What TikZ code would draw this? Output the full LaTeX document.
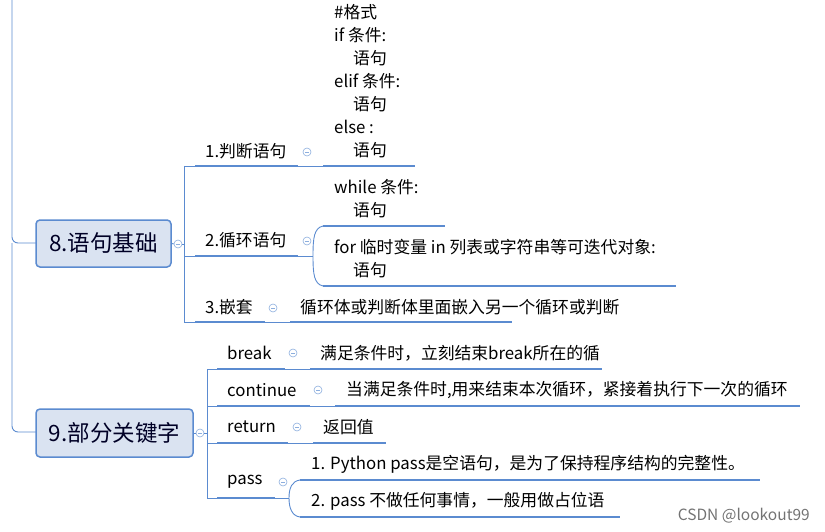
\documentclass[tikz,border=0pt]{standalone}
\usepackage{fontspec}
\setmainfont{Noto Sans CJK SC}
\definecolor{bl}{HTML}{5B8BD0}
\definecolor{rootfill}{HTML}{DAE3F1}
\begin{document}
\begin{tikzpicture}[x=1pt,y=-1pt,
  txt/.style={anchor=west,inner sep=0pt,font=\fontsize{16.8}{18}\selectfont,text=black},
  root/.style={draw=bl,line width=1.5pt,fill=rootfill,rounded corners=4pt,font=\fontsize{22.5}{24}\selectfont,text=black!85!blue,inner sep=0pt},
  ul/.style={draw=bl,line width=2.6pt},
  thin/.style={draw=bl,line width=0.9pt},
  tog/.style={circle,draw=bl!70,line width=0.6pt,minimum size=8pt,inner sep=0pt,path picture={\draw[bl!70,line width=0.6pt] ([xshift=-2pt]path picture bounding box.center) -- ([xshift=2pt]path picture bounding box.center);}}]
\useasboundingbox (0,0) rectangle (825,532);
% trunk
\draw[thin,rounded corners=6pt] (12,0) -- (12,243) -- (36,243);
\draw[thin,rounded corners=6pt] (12,243) -- (12,432) -- (36,432);
% root 8
\node[root,minimum width=135pt,minimum height=47pt] (r8) at (103.5,243.5) {8.语句基础};
\node[tog] (t8) at (178,244) {};
\draw[thin] (r8.east) -- (t8.west);
\draw[thin] (t8.east) -- (184,244);
\draw[thin] (184,166) -- (184,322);
% 1
\node[txt] (a1) at (205,151) {1.判断语句};
\node[tog] (ta1) at (307,152) {};
\draw[ul] (195,166) -- (298,166);
\draw[thin] (184,166) -- (195,166);
\draw[thin] (298,166) -- (323,166);
\node[txt] (a1c) at (334,12) {\#格式};
\node[txt] at (334,35) {if 条件:};
\node[txt] at (353,58) {语句};
\node[txt] at (334,81) {elif 条件:};
\node[txt] at (353,104) {语句};
\node[txt] at (334,127) {else :};
\node[txt] at (353,150) {语句};
\draw[ul] (323,166) -- (415,166);
% 2
\node[txt] (a2) at (205,240) {2.循环语句};
\node[tog] (ta2) at (307,241) {};
\draw[ul] (195,256) -- (298,256);
\draw[thin] (184,256) -- (195,256);
\draw[thin] (298,256) -- (313,256);
\draw[thin] (323,226) .. controls (314,228) and (313,238) .. (313,256) .. controls (313,274) and (314,284) .. (323,286);
\node[txt] (b1) at (334,187) {while 条件:};
\node[txt] at (353,210) {语句};
\draw[ul] (323,226) -- (445,226);
\node[txt] (b2) at (334,247) {for 临时变量 in 列表或字符串等可迭代对象:};
\node[txt] at (353,270) {语句};
\draw[ul] (323,286) -- (676,286);
% 3
\node[txt] (a3) at (205,307) {3.嵌套};
\node[tog] (ta3) at (273,308) {};
\draw[ul] (195,322) -- (265,322);
\draw[thin] (184,322) -- (195,322);
\draw[thin] (265,322) -- (290,322);
\node[txt] (c3) at (300,307) {循环体或判断体里面嵌入另一个循环或判断};
\draw[ul] (290,322) -- (512,322);
% root 9
\node[root,minimum width=157pt,minimum height=48pt] (r9) at (114.5,433) {9.部分关键字};
\node[tog] (t9) at (200,433) {};
\draw[thin] (r9.east) -- (t9.west);
\draw[thin] (t9.east) -- (207,433);
\draw[thin] (207,369) -- (207,498);
% break
\node[txt] (k1) at (227,353) {break};
\node[tog] at (293,353) {};
\draw[ul] (217,369) -- (285,369);
\draw[thin] (207,369) -- (217,369);
\draw[thin] (285,369) -- (310,369);
\node[txt] at (320,353) {满足条件时，立刻结束break所在的循};
\draw[ul] (310,369) -- (602,369);
% continue
\node[txt] (k2) at (227,390) {continue};
\node[tog] at (318,390) {};
\draw[ul] (217,406) -- (310,406);
\draw[thin] (207,406) -- (217,406);
\draw[thin] (310,406) -- (335,406);
\node[txt] at (346,390) {当满足条件时,用来结束本次循环，紧接着执行下一次的循环};
\draw[ul] (335,406) -- (800,406);
% return
\node[txt] (k3) at (227,427) {return};
\node[tog] at (297,427) {};
\draw[ul] (217,443) -- (288,443);
\draw[thin] (207,443) -- (217,443);
\draw[thin] (288,443) -- (313,443);
\node[txt] at (323,427) {返回值};
\draw[ul] (313,443) -- (386,443);
% pass
\node[txt] (k4) at (227,482) {pass};
\node[tog] at (283,482) {};
\draw[ul] (217,498) -- (275,498);
\draw[thin] (207,498) -- (217,498);
\draw[thin] (275,498) -- (289,498);
\draw[thin] (300,480) .. controls (292,481) and (289,488) .. (289,498) .. controls (289,508) and (292,516) .. (300,517);
\node[txt] at (311,464) {1. Python pass是空语句，是为了保持程序结构的完整性。};
\draw[ul] (300,480) -- (760,480);
\node[txt] at (311,501) {2. pass 不做任何事情，一般用做占位语};
\draw[ul] (300,517) -- (620,517);
% watermark
\node[anchor=east,inner sep=0pt,font=\fontsize{15.5}{17}\selectfont,text=black!55] (wm) at (810,516) {CSDN @lookout99};
\end{tikzpicture}
\end{document}
